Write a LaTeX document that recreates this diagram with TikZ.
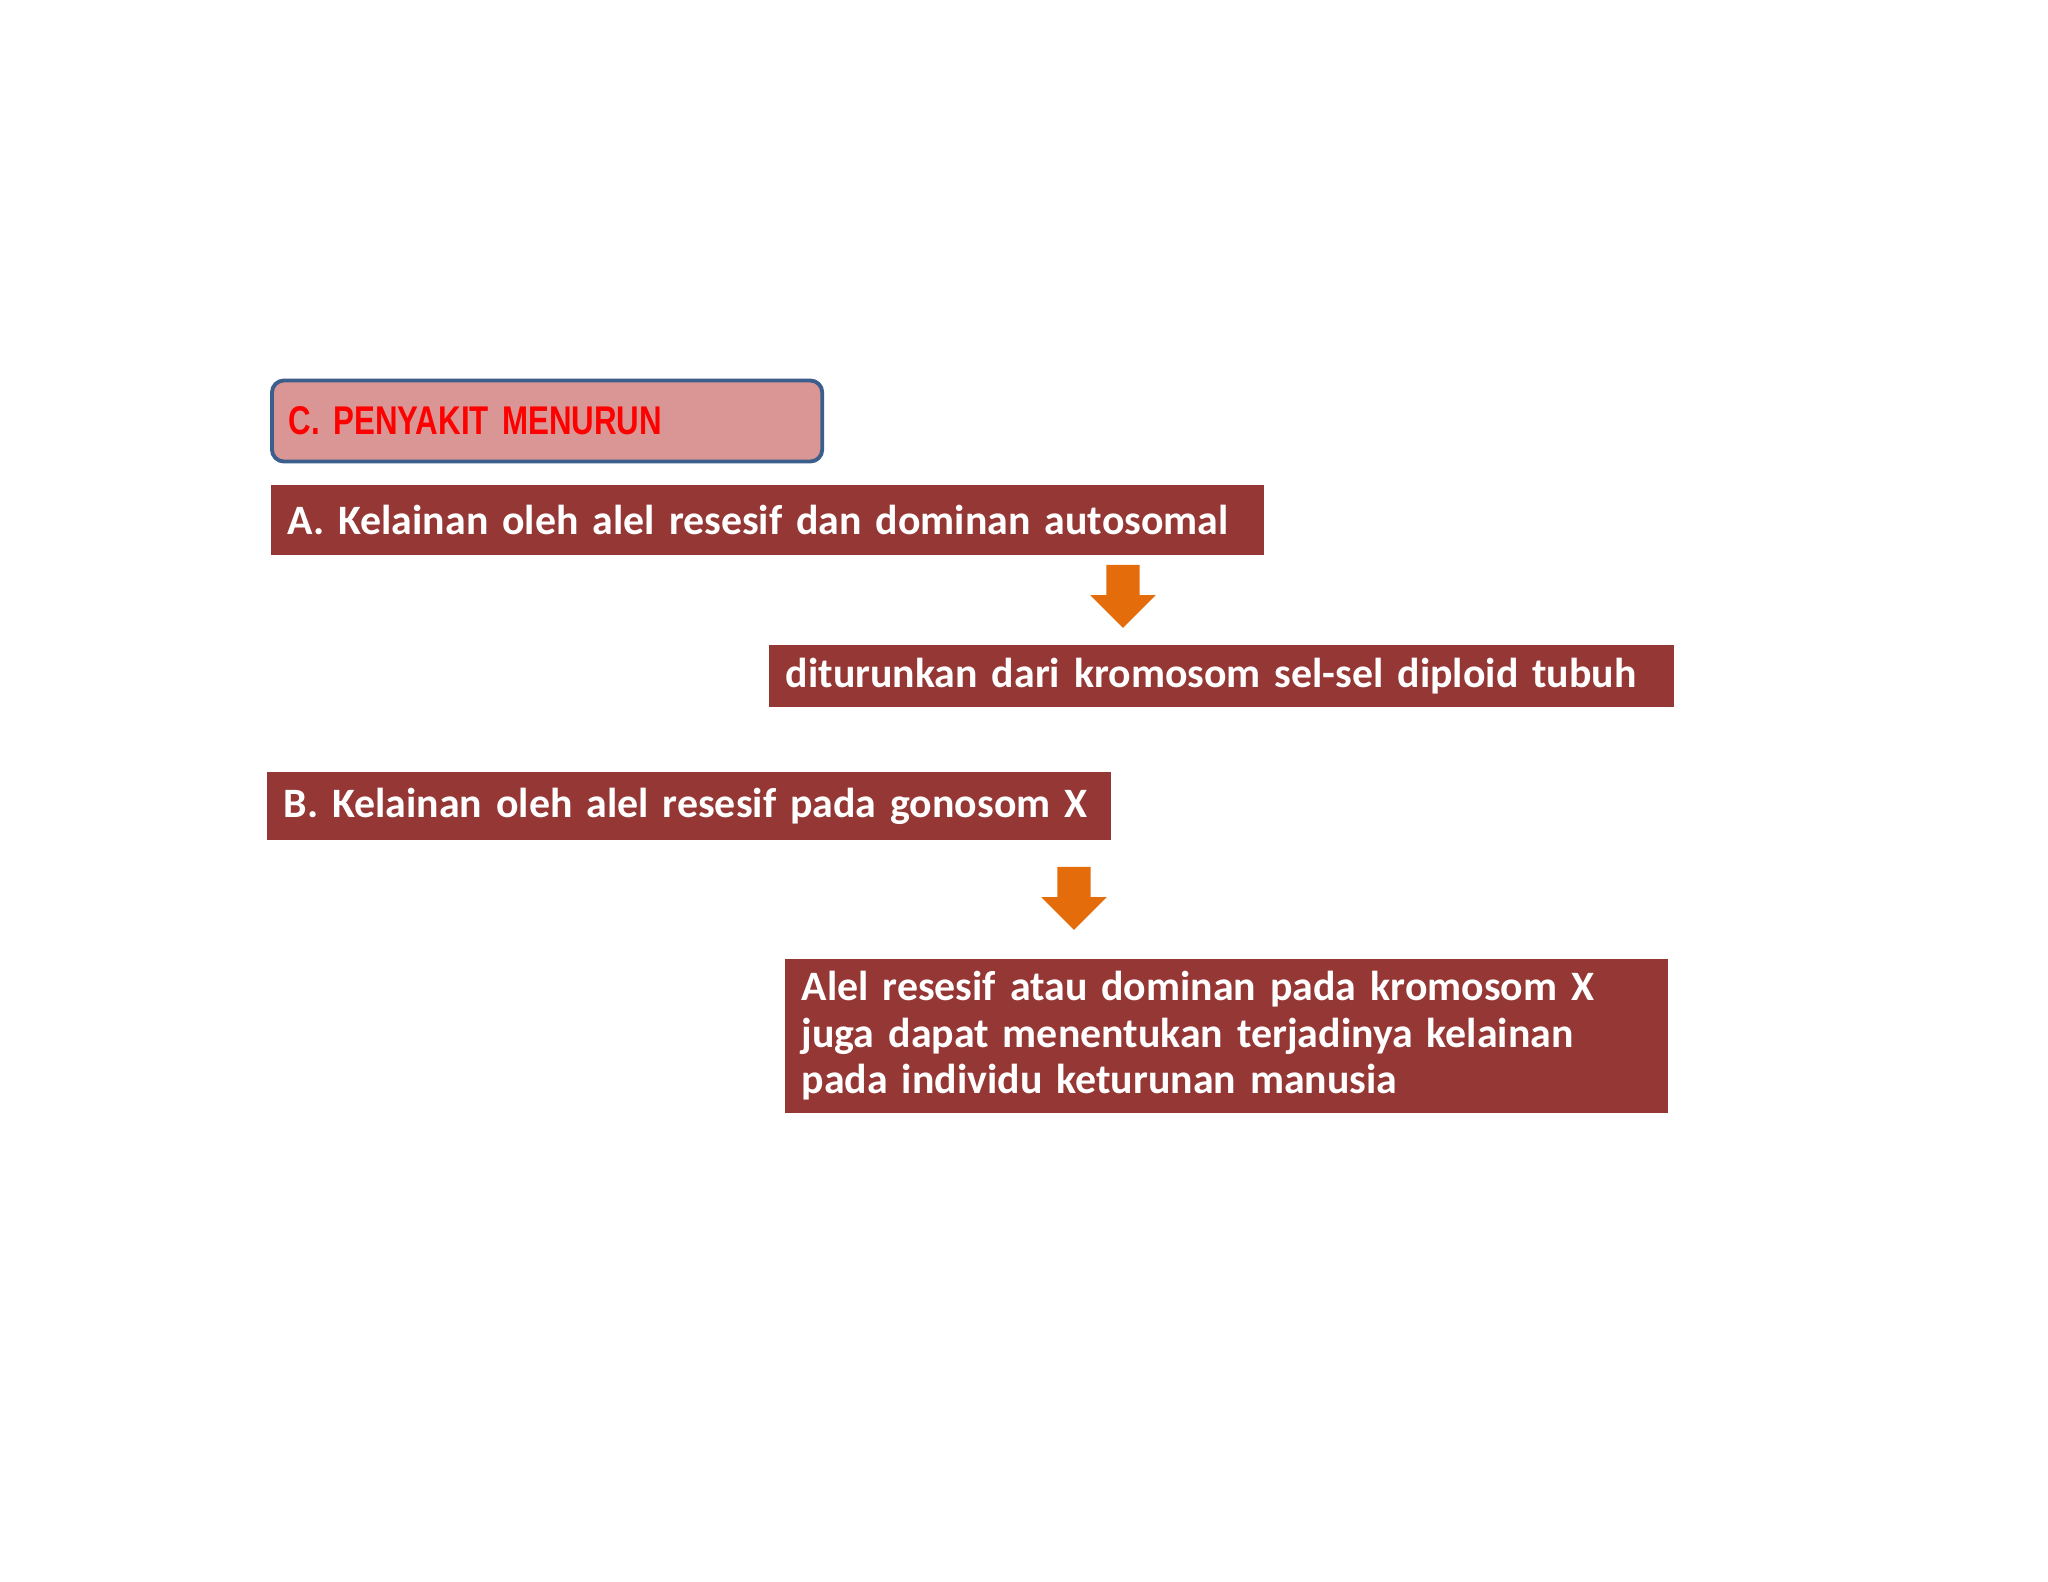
\documentclass[tikz,border=0pt]{standalone}
\usepackage{fontspec}
\usetikzlibrary{shapes}
\newfontfamily\boxfont{Carlito}
\newfontfamily\titlefont[FakeStretch=0.78]{Liberation Sans}
\definecolor{boxred}{HTML}{953735}
\definecolor{titlefill}{HTML}{D99694}
\definecolor{titleline}{HTML}{3B5E8C}
\definecolor{arrowor}{HTML}{E46C0A}

\begin{document}
\begin{tikzpicture}[x=0.01cm,y=-0.01cm]
\tikzstyle{head}=[draw=titleline,line width=1.1pt,fill=titlefill,rounded corners=0.12cm,anchor=west,
  minimum height=0.81cm,text width=5.16cm,inner xsep=0.17cm,text=red,font=\titlefont\bfseries\fontsize{11.4}{13}\selectfont];
\tikzstyle{block}=[fill=boxred,anchor=west,inner xsep=0.17cm,text=white,align=left,
  font=\boxfont\bfseries\fontsize{11.9}{13.2}\selectfont];
\tikzstyle{down}=[single arrow,shape border rotate=270,fill=arrowor,inner sep=0.16cm,
  minimum height=0.63cm,minimum width=0.64cm,single arrow head extend=0.16cm];
\useasboundingbox (0,0) rectangle (2048,1582);
\fill[white] (0,0) rectangle (2048,1582);
\node [head] (v0) at (270,421) {C. PENYAKIT MENURUN};
\node [block,minimum height=0.70cm,text width=9.59cm] (v1) at (270,520) {A. Kelainan oleh alel resesif dan dominan autosomal};
\node [down] (v2) at (1123,588) {};
\node [block,minimum height=0.62cm,text width=8.71cm] (v3) at (768,676) {diturunkan dari kromosom sel-sel diploid tubuh};
\node [block,minimum height=0.67cm,text width=8.10cm] (v4) at (266,806) {B. Kelainan oleh alel resesif pada gonosom X};
\node [down] (v5) at (1074,890) {};
\node [block,minimum height=1.54cm,text width=8.49cm] (v6) at (784,1036) {Alel resesif atau dominan pada kromosom X\\
juga dapat menentukan terjadinya kelainan\\
pada individu keturunan manusia};
\end{tikzpicture}
\end{document}
